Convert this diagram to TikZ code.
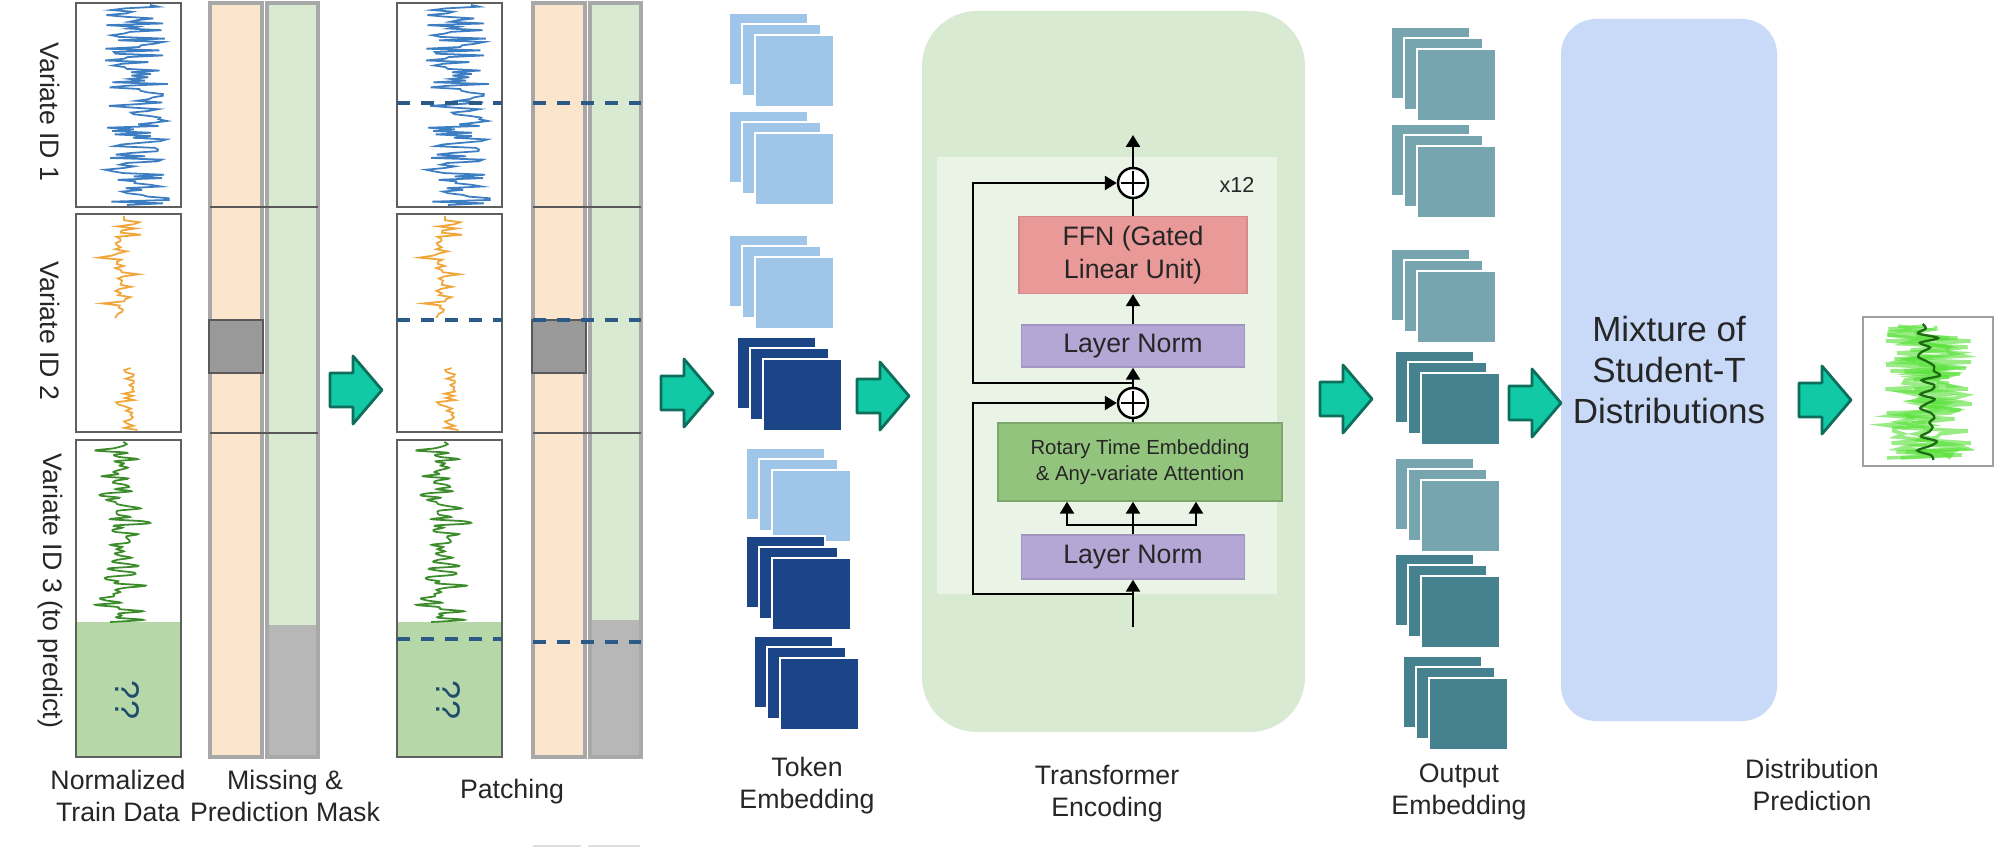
\documentclass[tikz,border=0pt]{standalone}
\usepackage{fontspec}
\setmainfont{Liberation Sans}
\usetikzlibrary{arrows.meta}

\definecolor{maskorange}{HTML}{FCE5CD}
\definecolor{maskgreen}{HTML}{D9EAD3}
\definecolor{maskgrey}{HTML}{B7B7B7}
\definecolor{missgrey}{HTML}{999999}
\definecolor{maskframe}{HTML}{A8A8A8}
\definecolor{boxframe}{HTML}{5F5F5F}
\definecolor{predgreen}{HTML}{B6D7A8}
\definecolor{qmark}{HTML}{1E4D6B}
\definecolor{waveblue}{HTML}{3D7EC2}
\definecolor{waveorange}{HTML}{F0A63A}
\definecolor{wavegreen}{HTML}{3C8C2C}
\definecolor{patchdash}{HTML}{2C5A86}
\definecolor{tokenlight}{HTML}{9FC5E8}
\definecolor{tokendark}{HTML}{1C4587}
\definecolor{outlight}{HTML}{76A5AF}
\definecolor{outdark}{HTML}{45818E}
\definecolor{arrowfill}{HTML}{12C9A5}
\definecolor{arrowedge}{HTML}{0E6E5C}
\definecolor{encgreen}{HTML}{D9EAD3}
\definecolor{encinner}{HTML}{EAF4E6}
\definecolor{ffnred}{HTML}{EA9999}
\definecolor{normpurple}{HTML}{B4A7D6}
\definecolor{attngreen}{HTML}{93C47D}
\definecolor{mixblue}{HTML}{C9DAF8}
\definecolor{distlight}{HTML}{55E034}
\definecolor{distdark}{HTML}{1F6B14}

% three stacked embedding squares, back one at (#1,#2)
\newcommand{\embstack}[3]{%
  \foreach \k in {0,1,2}
    \filldraw[fill=#3, draw=white, line width=1pt] ({#1+13*\k},{#2+11*\k}) rectangle ++(79,72);
}

% fat block arrow centred at (#1,#2)
\newcommand{\blockarrow}[2]{%
  \filldraw[fill=arrowfill, draw=arrowedge, line width=1.6pt, line join=round]
    ({#1-26},{#2-17}) -- ({#1-3},{#2-17}) -- ({#1-3},{#2-34}) -- ({#1+26},{#2})
    -- ({#1-3},{#2+34}) -- ({#1-3},{#2+17}) -- ({#1-26},{#2+17}) -- cycle;
}

% boxes with the three series, shifted by #1, ?? node named #2
\newcommand{\datapanel}[2]{%
  \begin{scope}[shift={(#1,0)}]
    \fill[predgreen] (76,622) rectangle (181,757);
    \pgfmathsetseed{3}
    \draw[waveblue, line width=1pt] plot[domain=5:205, samples=120] ({137+32*rand}, \x);
    \pgfmathsetseed{8}
    \draw[waveorange, line width=1pt] plot[domain=216:318, samples=50] ({120+5*rand+30*(rand>0.55)*rand}, \x);
    \draw[waveorange, line width=1pt] plot[domain=368:430, samples=30] ({129+5*rand+14*(rand>0.4)*rand}, \x);
    \pgfmathsetseed{13}
    \draw[wavegreen, line width=1pt] plot[smooth, domain=442:622, samples=85] ({122+10*rand+24*(rand>0.1)*rand}, \x);
    \draw[boxframe, line width=1.5pt] (76,3) rectangle (181,207) (76,214) rectangle (181,432) (76,440) rectangle (181,757);
    \node[rotate=-90, text=qmark, font=\fontsize{19.5}{20}\selectfont] (#2) at (127,700) {??};
  \end{scope}}

% missing and prediction mask columns, shifted by #1, grey from #2
\newcommand{\maskpair}[2]{%
  \begin{scope}[shift={(#1,0)}]
    \fill[maskorange] (210,3) rectangle (262,757);
    \fill[maskgreen] (267,3) rectangle (318,757);
    \fill[maskgrey] (267,#2) rectangle (318,757);
    \draw[maskframe, line width=2.2pt] (210,3) rectangle (262,757) (267,3) rectangle (318,757);
    \filldraw[fill=missgrey, draw=gray!70!black, line width=1pt] (209,320) rectangle (263,373);
    \draw[black!65, line width=1.2pt] (210,207) -- (318,207) (210,433) -- (318,433);
  \end{scope}}

\begin{document}
\begin{tikzpicture}[x=0.02cm, y=-0.02cm,
    labeltext/.style={align=center, text=black!85, font=\fontsize{15.2}{18.2}\selectfont},
    layerbox/.style={rectangle, inner sep=0pt, align=center, text=black!85, line width=0.8pt,
      font=\fontsize{15.2}{18.9}\selectfont},
    sumnode/.style={circle, draw, line width=1.4pt, fill=white, minimum size=0.6cm, inner sep=0pt,
      path picture={\draw[line width=1.4pt]
        ([yshift=-1.5pt]path picture bounding box.north) -- ([yshift=1.5pt]path picture bounding box.south)
        ([xshift=1.5pt]path picture bounding box.west) -- ([xshift=-1.5pt]path picture bounding box.east);}},
    conn/.style={line width=1.4pt, -{Triangle[length=0.24cm, width=0.28cm]}},
    link/.style={line width=1.4pt},
    patchcut/.style={patchdash, line width=1.8pt, dash pattern=on 0.26cm off 0.22cm}]

  \useasboundingbox (0,0) rectangle (1999,848);

  % Input and patching
  \datapanel{0}{trainq}
  \maskpair{0}{625}
  \datapanel{321}{patchq}
  \maskpair{323}{620}
  \draw[patchcut] (397,103) -- (502,103) (397,320) -- (502,320) (397,639) -- (502,639);
  \draw[patchcut] (533,103) -- (641,103) (533,320) -- (641,320) (533,642) -- (641,642);
  \draw[gray!25, line width=1pt] (533,846) -- (581,846) (588,846) -- (640,846);

  \node[labeltext, rotate=-90] (var1) at (50,112) {Variate ID 1};
  \node[labeltext, rotate=-90] (var2) at (50,331) {Variate ID 2};
  \node[labeltext, rotate=-90] (var3) at (50,591) {Variate ID 3 (to predict)};

  % Token embedding
  \embstack{729}{13}{tokenlight}
  \embstack{729}{111}{tokenlight}
  \embstack{729}{235}{tokenlight}
  \embstack{737}{337}{tokendark}
  \embstack{746}{448}{tokenlight}
  \embstack{746}{536}{tokendark}
  \embstack{754}{636}{tokendark}

  % Transformer encoding
  \fill[encgreen, rounded corners=1.1cm] (922,11) rectangle (1305,732);
  \fill[encinner] (937,157) rectangle (1277,594);

  \node[layerbox, fill=ffnred, draw=ffnred!90!black, minimum width=4.56cm, minimum height=1.54cm] (ffn) at (1133,255) {FFN (Gated\\Linear Unit)};
  \node[layerbox, fill=normpurple, draw=normpurple!90!black, minimum width=4.46cm, minimum height=0.84cm] (norm2) at (1133,346) {Layer Norm};
  \node[layerbox, fill=attngreen, draw=attngreen!85!black, minimum width=5.68cm, minimum height=1.56cm,
    font=\fontsize{11.6}{15.1}\selectfont] (attn) at (1140,462) {Rotary Time Embedding\\\& Any-variate Attention};
  \node[layerbox, fill=normpurple, draw=normpurple!90!black, minimum width=4.46cm, minimum height=0.88cm] (norm1) at (1133,557) {Layer Norm};
  \node[sumnode] (sum2) at (1133,183) {};
  \node[sumnode] (sum1) at (1133,403) {};
  \node[text=black!85, font=\fontsize{12.3}{14}\selectfont] (rep) at (1237,185) {x12};

  \coordinate (inp) at (1133,627);
  \coordinate (res1) at (1133,594);
  \coordinate (res1l) at (973,594);
  \coordinate (fork) at (1133,525);
  \coordinate (forkl) at (1067,525);
  \coordinate (forkr) at (1196,525);
  \coordinate (res2) at (1133,383);
  \coordinate (res2l) at (973,383);
  \coordinate (outp) at (1133,135);

  \draw[conn] (inp) -- (norm1);
  \draw[conn] (res1) -- (res1l) |- (sum1);
  \draw[link] (norm1) -- (fork);
  \draw[conn] (fork) -- (fork |- attn.south);
  \draw[conn] (fork) -- (forkl) -- (forkl |- attn.south);
  \draw[conn] (fork) -- (forkr) -- (forkr |- attn.south);
  \draw[link] (attn.north -| sum1) -- (sum1);
  \draw[conn] (sum1) -- (norm2);
  \draw[conn] (res2) -- (res2l) |- (sum2);
  \draw[conn] (norm2) -- (ffn);
  \draw[link] (ffn) -- (sum2);
  \draw[conn] (sum2) -- (outp);

  % Output embedding
  \embstack{1391}{27}{outlight}
  \embstack{1391}{124}{outlight}
  \embstack{1391}{249}{outlight}
  \embstack{1395}{351}{outdark}
  \embstack{1395}{458}{outlight}
  \embstack{1395}{554}{outdark}
  \embstack{1403}{656}{outdark}

  % Distribution head
  \fill[mixblue, rounded corners=0.7cm] (1561,19) rectangle (1777,721);
  \node[align=center, text=black!85, font=\fontsize{19.9}{23.4}\selectfont] (mix) at (1669,370) {Mixture of\\Student-T\\Distributions};

  \draw[gray!75, line width=1.3pt] (1863,317) rectangle (1993,466);
  \pgfmathsetseed{5}
  \foreach \s in {1,2,3}
    \draw[distlight, opacity=0.6, line width=2pt] plot[domain=326:458, samples=45] ({1928+44*rand}, \x);
  \pgfmathsetseed{9}
  \draw[distdark, line width=1.3pt] plot[smooth, domain=324:460, samples=30] ({1926+14*rand}, \x);

  % Block arrows
  \blockarrow{356}{390}
  \blockarrow{687}{393}
  \blockarrow{883}{396}
  \blockarrow{1346}{399}
  \blockarrow{1535}{403}
  \blockarrow{1825}{400}

  % Labels
  \node[labeltext] (lblnorm) at (118,796) {Normalized\\Train Data};
  \node[labeltext] (lblmask) at (285,796) {Missing \&\\Prediction Mask};
  \node[labeltext] (lblpatch) at (512,792) {Patching};
  \node[labeltext] (lbltoken) at (807,786) {Token\\Embedding};
  \node[labeltext] (lblenc) at (1107,794) {Transformer\\Encoding};
  \node[labeltext] (lblout) at (1459,792) {Output\\Embedding};
  \node[labeltext] (lbldist) at (1812,785) {Distribution\\Prediction};
\end{tikzpicture}
\end{document}
